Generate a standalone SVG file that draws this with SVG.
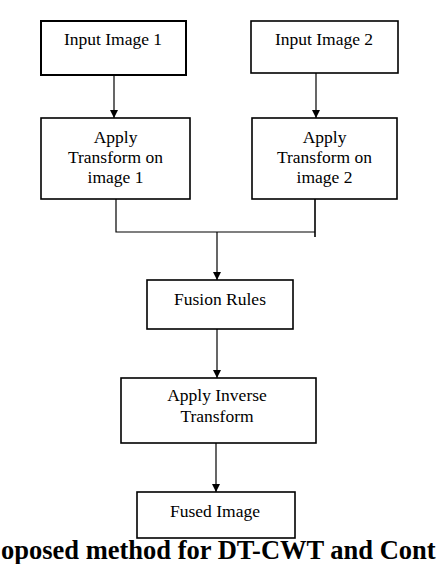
<svg xmlns="http://www.w3.org/2000/svg" width="438" height="564" viewBox="0 0 438 564">
<defs>
<style>
.box{fill:#fff;stroke:#000;stroke-width:1.6}
.t{font-family:"Liberation Serif","Times New Roman",serif;font-size:17.5px;fill:#000;text-anchor:middle}
.c{fill:none;stroke:#000;stroke-width:1.2}
.cap{font-family:"Liberation Serif","Times New Roman",serif;font-size:26.5px;font-weight:bold;fill:#000}
</style>
<marker id="ah" viewBox="0 0 10 10" refX="10" refY="5" markerWidth="8" markerHeight="8" markerUnits="userSpaceOnUse" orient="auto">
<path d="M0,0 L10,5 L0,10 Z" fill="#000"/>
</marker>
</defs>
<rect width="438" height="564" fill="#fff"/>
<g id="connectors">
<line class="c" x1="114" y1="75" x2="114" y2="118" marker-end="url(#ah)"/>
<line class="c" x1="316" y1="70" x2="316" y2="118" marker-end="url(#ah)"/>
<polyline class="c" points="116,196 116,232 315,232"/>
<line class="c" x1="315" y1="199" x2="315" y2="237" style="stroke-width:1.6"/>
<line class="c" x1="217" y1="232" x2="217" y2="280" marker-end="url(#ah)"/>
<line class="c" x1="217" y1="329" x2="217" y2="378" marker-end="url(#ah)"/>
<line class="c" x1="216" y1="443" x2="216" y2="492" marker-end="url(#ah)"/>
</g>
<g id="input1">
<rect class="box" x="41" y="21" width="145" height="54" style="stroke-width:2"/>
<text class="t" x="113" y="45">Input Image 1</text>
</g>
<g id="input2">
<rect class="box" x="251" y="21" width="147" height="52"/>
<text class="t" x="324" y="45">Input Image 2</text>
</g>
<g id="transform1">
<rect class="box" x="41" y="118" width="149" height="81"/>
<text class="t" x="115.5" y="143">Apply</text>
<text class="t" x="115.5" y="162.5">Transform on</text>
<text class="t" x="115.5" y="182.5">image 1</text>
</g>
<g id="transform2">
<rect class="box" x="252" y="118" width="145" height="81"/>
<text class="t" x="324.5" y="143">Apply</text>
<text class="t" x="324.5" y="162.5">Transform on</text>
<text class="t" x="324.5" y="182.5">image 2</text>
</g>
<g id="fusion">
<rect class="box" x="147" y="280" width="146" height="49"/>
<text class="t" x="220" y="305">Fusion Rules</text>
</g>
<g id="inverse">
<rect class="box" x="121" y="378" width="195" height="65"/>
<text class="t" x="217" y="401">Apply Inverse</text>
<text class="t" x="217" y="422">Transform</text>
</g>
<g id="fused">
<rect class="box" x="137" y="492" width="158" height="46"/>
<text class="t" x="215" y="517">Fused Image</text>
</g>
<text class="cap" x="1" y="559">oposed method for DT-CWT and Cont</text>
</svg>
